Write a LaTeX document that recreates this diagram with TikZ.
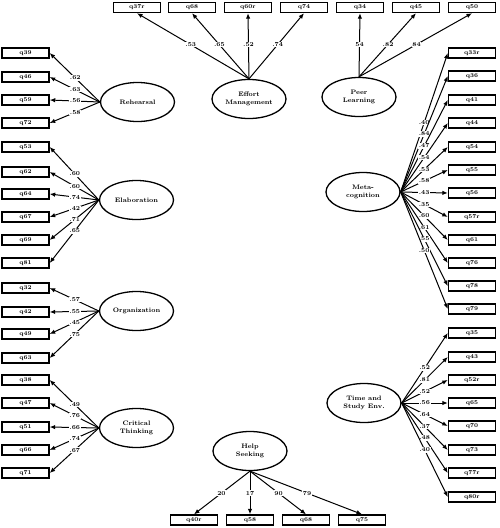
\documentclass[tikz,border=0pt]{standalone}
\usetikzlibrary{arrows.meta,shapes.geometric}
\begin{document}
\begin{tikzpicture}[x=1pt,y=-1pt,
  item/.style={draw, line width=1.4pt, minimum width=47pt, minimum height=10pt, inner sep=0pt, font=\fontsize{5.8}{5.8}\selectfont\bfseries},
  factor/.style={draw, ellipse, line width=1.3pt, minimum width=74pt, minimum height=39pt, inner sep=0pt, align=center, font=\fontsize{6.5}{8}\selectfont\bfseries},
  load/.style={-{Latex[length=5.5pt,width=4.5pt]}, line width=1pt},
  lbl/.style={fill=white, inner sep=0.7pt, font=\fontsize{6}{6}\selectfont\bfseries}
]
\useasboundingbox (0,0) rectangle (500,528);

% factors
\node[factor] (reh) at (137.5,102) {Rehearsal};
\node[factor] (ela) at (136.5,200) {Elaboration};
\node[factor] (org) at (136.5,311) {Organization};
\node[factor] (cri) at (136.5,428) {Critical\\Thinking};
\node[factor] (eff) at (249,99) {Effort\\Management};
\node[factor] (pee) at (359,97) {Peer\\Learning};
\node[factor] (met) at (363,192) {Meta-\\cognition};
\node[factor] (tim) at (364,403) {Time and\\Study Env.};
\node[factor] (hel) at (250,451) {Help\\Seeking};

% Rehearsal
\foreach \n/\y/\v in {q39/53/.62, q46/77/.63, q59/100/.56, q72/123/.58} {
  \node[item] (r-\n) at (25.5,\y) {\n};
  \draw[load] (reh.west) -- node[lbl,pos=0.49]{\v} (r-\n.east);
}
% Elaboration
\foreach \n/\y/\v in {q53/147/.60, q62/172/.60, q64/194/.74, q67/217/.42, q69/240/.71, q81/263/.65} {
  \node[item] (e-\n) at (25.5,\y) {\n};
  \draw[load] (ela.west) -- node[lbl,pos=0.49]{\v} (e-\n.east);
}
% Organization
\foreach \n/\y/\v in {q32/288/.57, q42/312/.55, q49/334/.45, q63/358/.75} {
  \node[item] (o-\n) at (25.5,\y) {\n};
  \draw[load] (org.west) -- node[lbl,pos=0.49]{\v} (o-\n.east);
}
% Critical Thinking
\foreach \n/\y/\v in {q38/380/.49, q47/403/.76, q51/427/.66, q66/450/.74, q71/473/.67} {
  \node[item] (c-\n) at (25.5,\y) {\n};
  \draw[load] (cri.west) -- node[lbl,pos=0.49]{\v} (c-\n.east);
}
% Effort Management
\foreach \n/\x/\v in {q37r/137/.53, q68/192/.65, q60r/248/.52, q74/304/.74} {
  \node[item] (m-\n) at (\x,7.5) {\n};
  \draw[load] (eff.north) -- node[lbl,pos=0.52]{\v} (m-\n.south);
}
% Peer Learning
\foreach \n/\x/\v in {q34/360/54, q45/416/.82, q50/472/84} {
  \node[item] (p-\n) at (\x,7.5) {\n};
  \draw[load] (pee.north) -- node[lbl,pos=0.51]{\v} (p-\n.south);
}
% Metacognition
\foreach \n/\y/\v in {q33r/53/.40, q36/76/.84, q41/100/.47, q44/123/.54, q54/147/.53, q55/170/.58, q56/193/.43, q57r/217/.35, q61/240/.60, q76/263/.61, q78/286/.55, q79/309/.50} {
  \node[item] (k-\n) at (472,\y) {\n};
  \draw[load] (met.east) -- node[lbl,pos=0.5]{\v} (k-\n.west);
}
% Time and Study Env
\foreach \n/\y/\v in {q35/333/.52, q43/357/.81, q52r/380/.52, q65/403/.56, q70/426/.64, q73/450/.37, q77r/473/.48, q80r/497/.40} {
  \node[item] (t-\n) at (472,\y) {\n};
  \draw[load] (tim.east) -- node[lbl,pos=0.5]{\v} (t-\n.west);
}
% Help Seeking
\foreach \n/\x/\v in {q40r/194/20, q58/250/17, q68/306/90, q75/362/79} {
  \node[item] (h-\n) at (\x,520) {\n};
  \draw[load] (hel.south) -- node[lbl,pos=0.51]{\v} (h-\n.north);
}
\end{tikzpicture}
\end{document}
